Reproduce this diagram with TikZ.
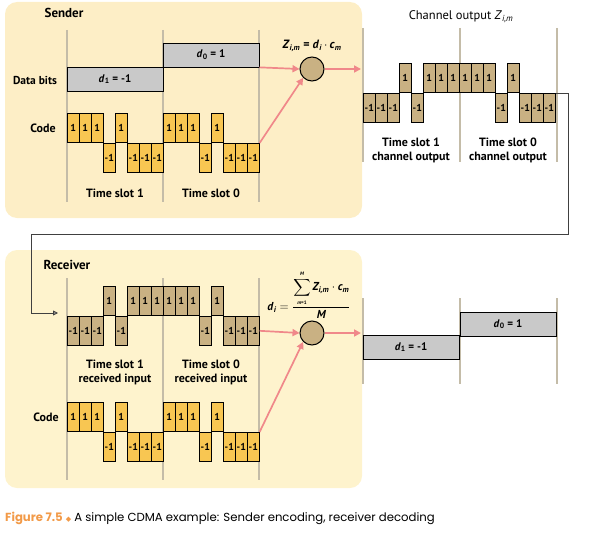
\documentclass[tikz,border=0pt]{standalone}
\usepackage{amsmath}
\usepackage{fontspec}
\setmainfont{PT Sans}
\newfontfamily\symfont{DejaVu Sans}
\newfontfamily\capfont{Poppins}
\usetikzlibrary{arrows.meta}

\definecolor{panel}{HTML}{FDEEC6}
\definecolor{panelrx}{HTML}{FEF3CD}
\definecolor{codeyellow}{HTML}{F8C652}
\definecolor{chiptan}{HTML}{C9B183}
\definecolor{boxgray}{HTML}{C9C9C9}
\definecolor{slotgray}{HTML}{C4BCA8}
\definecolor{flowpink}{HTML}{F0888A}
\definecolor{figorange}{HTML}{F29A48}

\begin{document}
\begin{tikzpicture}[x=1pt,y=-1pt,
    chip/.style={draw, line width=0.6pt, minimum width=12pt, minimum height=29pt,
        inner sep=0pt, font=\bfseries\fontsize{10}{10}\selectfont},
    slotline/.style={draw=slotgray, line width=1.8pt},
    databox/.style={draw, fill=boxgray, line width=0.7pt, minimum width=96pt,
        minimum height=24pt, inner sep=0pt, font=\bfseries\fontsize{11}{11}\selectfont},
    lbl/.style={font=\bfseries\fontsize{12}{14}\selectfont, align=center, inner sep=0pt},
    flow/.style={draw=flowpink, line width=1.7pt, -{Triangle[length=7pt,width=7pt]}},
    link/.style={draw=black!75, line width=0.8pt, -{Triangle[length=5pt,width=5pt,fill=black!45]}},
    mixer/.style={circle, draw, fill=chiptan, line width=1pt, minimum size=24pt, inner sep=0pt}]

    \useasboundingbox (0,0) rectangle (591,535);

    % Paneles
    \fill[panel, rounded corners=12pt] (5,2) rectangle (362,218);
    \fill[panelrx, rounded corners=12pt] (5,250) rectangle (362,488);

    % Lineas de separacion de ranuras
    \foreach \x in {67,163,259} {
        \draw[slotline] (\x,30) -- (\x,202);   % emisor
        \draw[slotline] (\x,278) -- (\x,480);  % receptor
    }
    \foreach \x in {363,460,557} {
        \draw[slotline] (\x,28) -- (\x,162);   % canal
        \draw[slotline] (\x,298) -- (\x,384);  % salida
    }

    % Bits de datos
    \node[databox] (d1) at (115,79) {\textit{d}\textsubscript{1} = -1};
    \node[databox] (d0) at (211,55) {\textit{d}\textsubscript{0} = 1};
    \node[databox] (o1) at (411,347) {\textit{d}\textsubscript{1} = -1};
    \node[databox] (o0) at (508,324) {\textit{d}\textsubscript{0} = 1};

    % Chips: fila / x inicial / linea base / signo ranura 1 / color
    \foreach \r/\xs/\yb/\sa/\col in {sc/67/143/1/codeyellow, ch/363/93/-1/chiptan,
                                     ri/67/316/-1/chiptan, rc/67/432/1/codeyellow} {
        \foreach \v [count=\i] in {1,1,1,-1,1,-1,-1,-1} {
            \pgfmathtruncatemacro\va{\sa*\v}
            \ifnum\va>0 \def\anca{south west}\else\def\anca{north west}\fi
            \ifnum\v>0 \def\ancb{south west}\else\def\ancb{north west}\fi
            \node[chip, fill=\col, anchor=\anca, name=\r a\i] at (\xs+12*\i-12,\yb) {\va};
            \node[chip, fill=\col, anchor=\ancb, name=\r b\i] at (\xs+12*\i+84,\yb) {\v};
        }
    }

    % Multiplicador y decodificador
    \node[mixer] (mult) at (312,69) {};
    \node[mixer] (dec) at (312,333) {};
    \coordinate (chin) at (361,69);
    \coordinate (decout) at (361,333);

    \draw[flow] (d0.south east) -- (mult.west);
    \draw[flow] (scb8.north east) -- (mult.south west);
    \draw[flow] (mult.east) -- (chin);
    \draw[flow] (rib8.east) -- (dec.west);
    \draw[flow] (rcb8.north east) -- (dec.south west);
    \draw[flow] (dec.east) -- (decout);

    % Enlace canal -> receptor
    \coordinate (turn) at (568,234);
    \coordinate (back) at (31,313);
    \coordinate (rxin) at (58,313);
    \draw[link] (chb8.north east) -| (turn) -| (back) -- (rxin);

    % Etiquetas
    \node[lbl, font=\bfseries\fontsize{13}{14}\selectfont] (snd) at (64,13) {Sender};
    \node[lbl, font=\bfseries\fontsize{13}{14}\selectfont] (rcv) at (67,265) {Receiver};
    \node[lbl, font=\bfseries\fontsize{11.5}{14}\selectfont] (dbits) at (35,80) {Data bits};
    \node[lbl] (scode) at (43,128) {Code};
    \node[lbl] (rcode) at (46,417) {Code};
    \node[lbl] (ts1) at (115,193) {Time slot 1};
    \node[lbl] (ts0) at (211,193) {Time slot 0};
    \node[lbl] (cts1) at (411,150) {Time slot 1\\channel output};
    \node[lbl] (cts0) at (508,150) {Time slot 0\\channel output};
    \node[lbl] (rts1) at (115,372) {Time slot 1\\received input};
    \node[lbl] (rts0) at (211,372) {Time slot 0\\received input};
    \node[lbl, font=\fontsize{12.5}{14}\selectfont] (chout) at (461,17)
        {Channel output \textit{Z}\textsubscript{\textit{i,m}}};
    \node[lbl, font=\bfseries\fontsize{12}{14}\selectfont] (enc) at (312,46)
        {\textit{Z}\textsubscript{\textit{i,m}} = \textit{d}\textsubscript{\textit{i}}\,$\cdot$\,\textit{c}\textsubscript{\textit{m}}};
    \node[lbl, font=\bfseries\fontsize{11.5}{14}\selectfont] (decf) at (309,295)
        {\textit{d}\textsubscript{\textit{i}} $=
        \dfrac{\displaystyle\sum_{\text{\tiny\textit{m}=1}}^{\text{\tiny\textit{M}}}
        \textit{Z}_{\textit{i,m}}\cdot\textit{c}_{\textit{m}}}{\textit{M}}$};

    % Pie de figura
    \node[anchor=west, inner sep=0pt, font=\capfont\fontsize{11.7}{12}\selectfont] (cap) at (5,518)
        {\textcolor{figorange}{\bfseries Figure 7.5} \textcolor{figorange}{\symfont\scriptsize ◆} A simple CDMA example: Sender encoding, receiver decoding};
\end{tikzpicture}
\end{document}
